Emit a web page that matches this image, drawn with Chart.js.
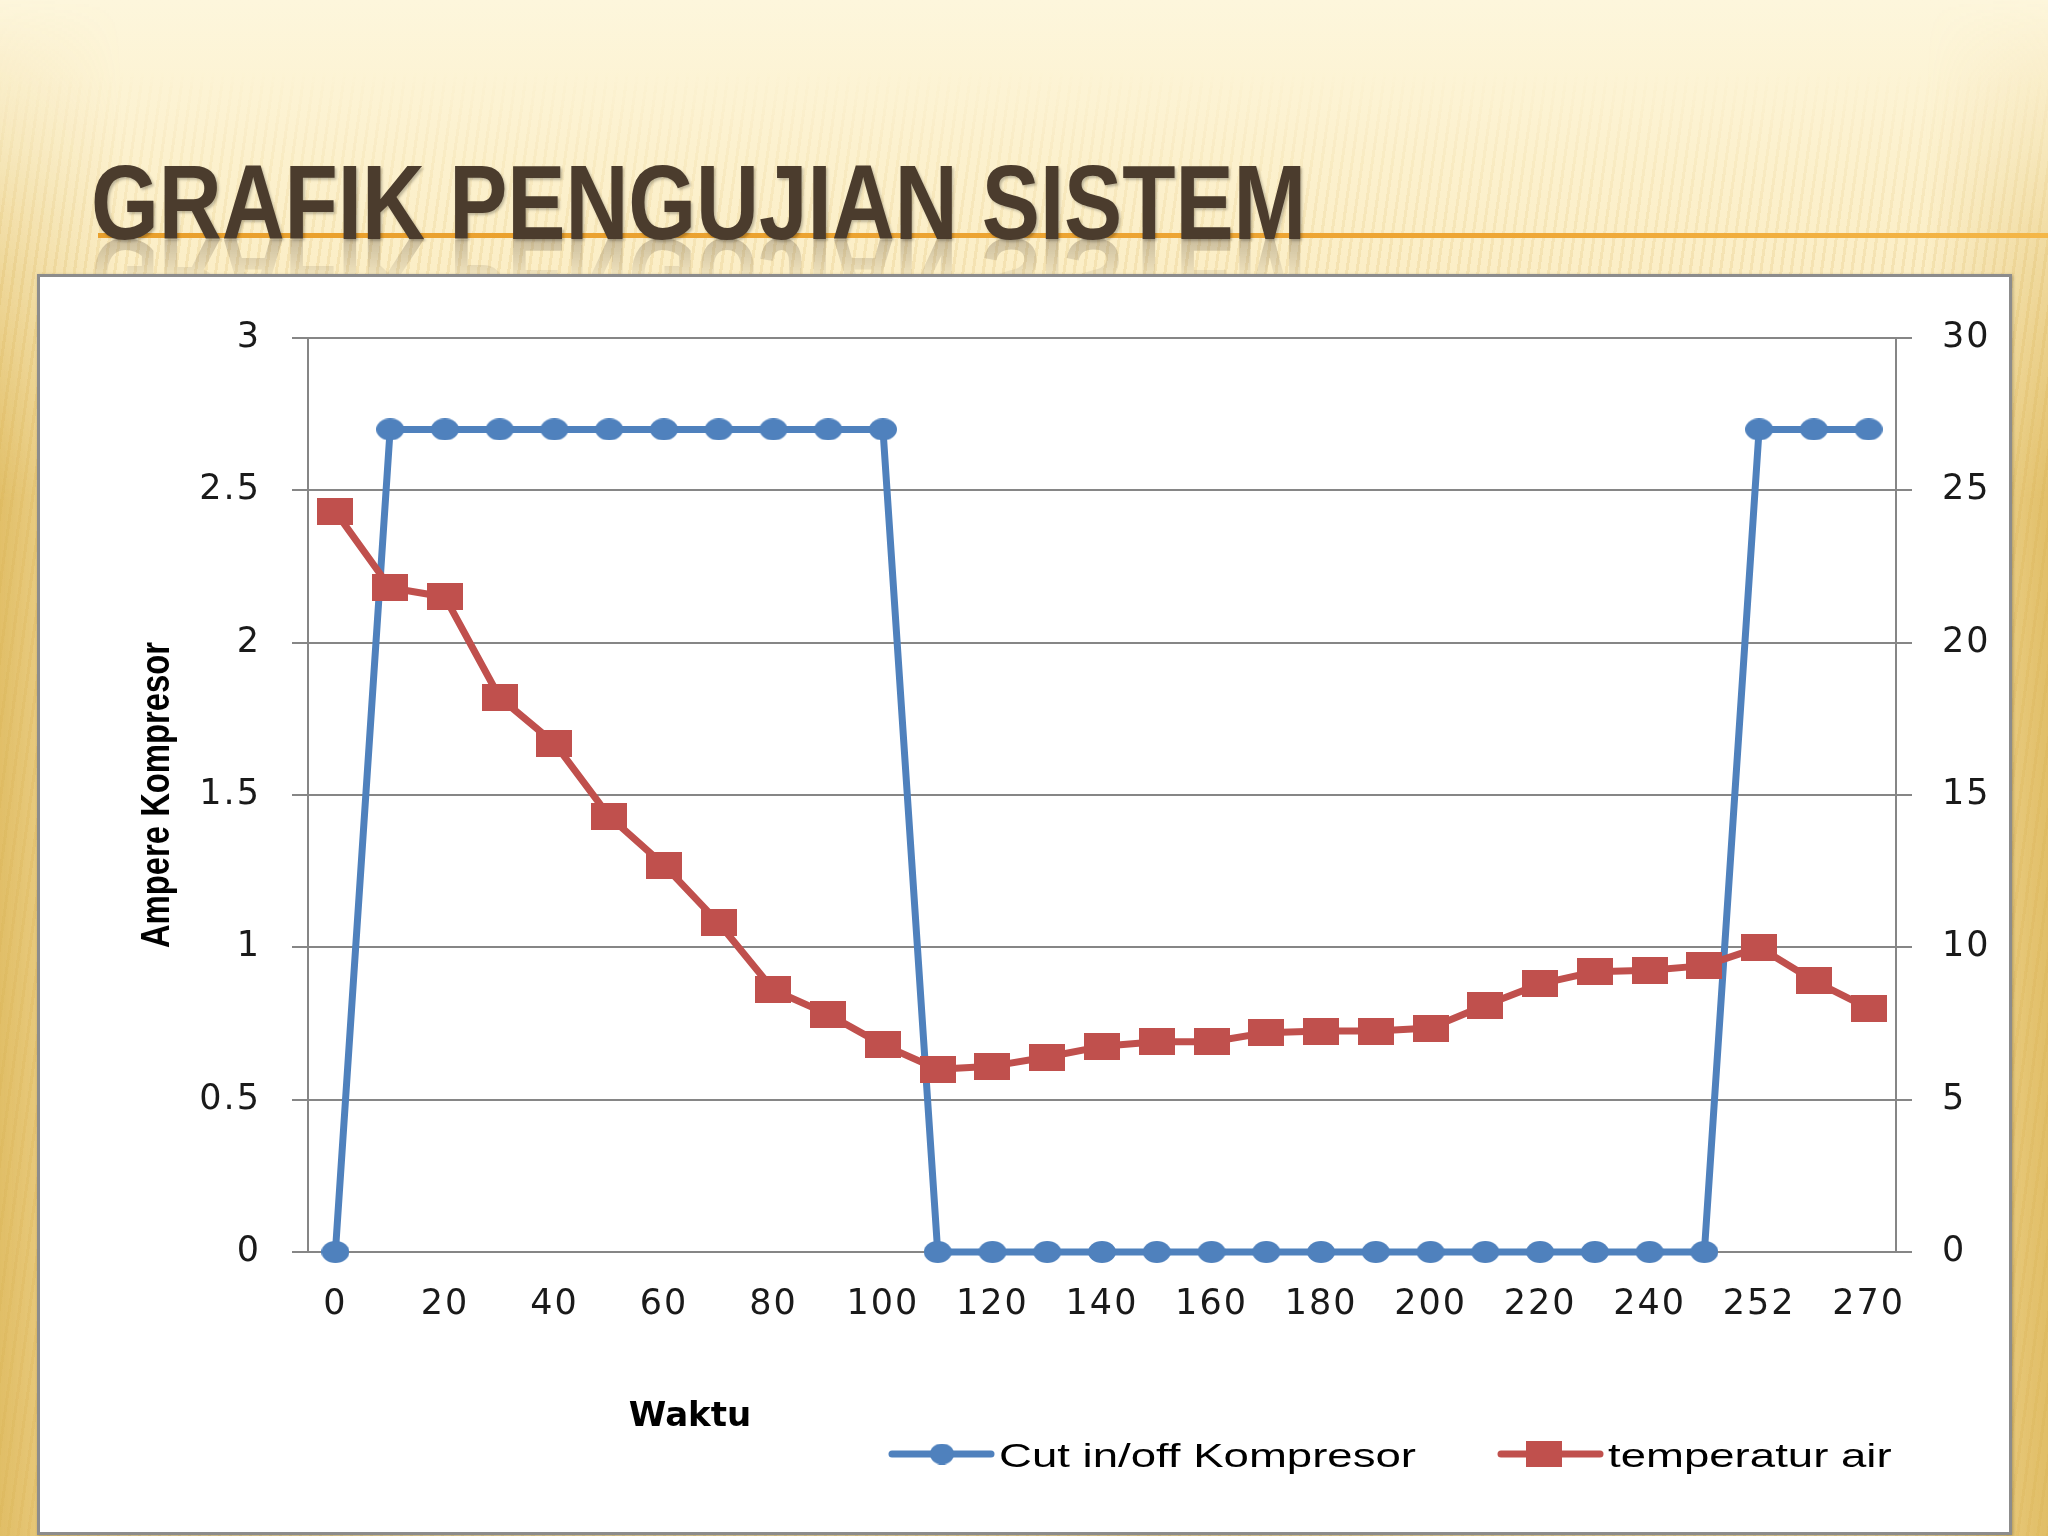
<!DOCTYPE html>
<html>
<head>
<meta charset="utf-8">
<script src="https://cdn.jsdelivr.net/npm/chart.js@4.4.1/dist/chart.umd.min.js"></script>
<style>
html,body{margin:0;padding:0;width:2048px;height:1536px;overflow:hidden;background:#fcefc8;}
#slide{position:absolute;left:0;top:0;width:2048px;height:1536px;overflow:hidden;
  background:linear-gradient(180deg, #fdf6dc 0%, #fcf1ce 10%, #f9e7b4 35%, #f4dc9e 100%);}
#sides{position:absolute;left:0;top:0;width:2048px;height:1536px;
  background:linear-gradient(90deg, rgba(222,186,96,0.9) 0%, rgba(236,210,140,0.0) 6%, rgba(236,210,140,0.0) 94%, rgba(222,186,96,0.9) 100%);
  -webkit-mask-image:linear-gradient(180deg, rgba(0,0,0,0) 0px, rgba(0,0,0,0.2) 150px, rgba(0,0,0,1) 500px);
  mask-image:linear-gradient(180deg, rgba(0,0,0,0) 0px, rgba(0,0,0,0.2) 150px, rgba(0,0,0,1) 500px);}
#stripes{position:absolute;left:0;top:0;width:2048px;height:1536px;
  background:repeating-linear-gradient(98deg, rgba(214,170,70,0.16) 0px, rgba(214,170,70,0.16) 3px, rgba(255,255,255,0) 3px, rgba(255,255,255,0) 10px);
  -webkit-mask-image:linear-gradient(180deg, rgba(0,0,0,0) 0px, rgba(0,0,0,0) 70px, rgba(0,0,0,1) 260px);
  mask-image:linear-gradient(180deg, rgba(0,0,0,0) 0px, rgba(0,0,0,0) 70px, rgba(0,0,0,1) 260px);}
#rule{position:absolute;left:98px;top:233px;width:1950px;height:5px;
  background:linear-gradient(90deg,#e9a02c 0%,#eea634 70%,#f4b748 100%);}
.ttl{position:absolute;left:91px;top:149px;margin:0;white-space:nowrap;
  font-family:"Liberation Sans",Arial,sans-serif;font-weight:bold;font-size:106px;line-height:106px;
  color:#4b3c2d;transform-origin:0 0;transform:scaleX(0.822);}
#title{text-shadow:2px 2px 3px rgba(0,0,0,0.25);}
#refl{transform-origin:0 90px;transform:scaleX(0.822) scaleY(-1);opacity:0.45;
  -webkit-mask-image:linear-gradient(180deg, rgba(0,0,0,0) 40%, rgba(0,0,0,0.8) 100%);
  mask-image:linear-gradient(180deg, rgba(0,0,0,0) 40%, rgba(0,0,0,0.8) 100%);}
#box{position:absolute;left:37px;top:274px;width:1975px;height:1261px;box-sizing:border-box;
  border:3px solid #8c8c8c;background:#ffffff;box-shadow:1px 1px 3px rgba(0,0,0,0.25);}
#wrap{position:absolute;left:0;top:0;width:1969px;height:1255px;}
</style>
</head>
<body>
<div id="slide">
  <div id="sides"></div>
  <div id="stripes"></div>
  <div id="rule"></div>
  <div class="ttl" id="refl">GRAFIK PENGUJIAN SISTEM</div>
  <div class="ttl" id="title">GRAFIK PENGUJIAN SISTEM</div>
  <div id="box"><div id="wrap"><canvas id="c"></canvas></div></div>
</div>
<script>
// ---- data ----
const waktu = ['0','10','20','30','40','50','60','70','80','90','100','110','120','130','140','150','160','170','180','190','200','210','220','230','240','250','252','260','270'];
const cutInOff = [0, 2.7,2.7,2.7,2.7,2.7,2.7,2.7,2.7,2.7,2.7, 0,0,0,0,0,0,0,0,0,0,0,0,0,0,0, 2.7,2.7,2.7];
const temperaturAir = [24.3,21.8,21.5,18.2,16.7,14.3,12.7,10.8,8.6,7.8,6.8,6.0,6.1,6.4,6.75,6.9,6.9,7.2,7.25,7.25,7.35,8.1,8.8,9.2,9.25,9.4,10.0,8.9,8.0];
const seriesNames = ['Cut in/off Kompresor','temperatur air'];
const xTitle = 'Waktu';
const yTitle = 'Ampere Kompresor';

const BLUE = '#4f81bd', RED = '#c0504d', GRID = '#868686', TXT = '#1a1a1a';

function ellipseImg(w,h,color){
  const c=document.createElement('canvas'); c.width=w; c.height=h;
  const g=c.getContext('2d'); g.fillStyle=color; g.beginPath();
  g.ellipse(w/2,h/2,w/2,h/2,0,0,Math.PI*2); g.fill(); return c;
}
function rectImg(w,h,color){
  const c=document.createElement('canvas'); c.width=w; c.height=h;
  const g=c.getContext('2d'); g.fillStyle=color; g.fillRect(0,0,w,h); return c;
}
const blueMark = ellipseImg(28,22,BLUE);
const redMark = rectImg(36,27,RED);

const extras = {
  id:'extras',
  beforeDraw(chart){
    if ('letterSpacing' in chart.ctx) chart.ctx.letterSpacing = '2px';
  },
  afterDraw(chart){
    const ctx = chart.ctx, a = chart.chartArea;
    if ('letterSpacing' in ctx) ctx.letterSpacing = '0px';
    ctx.save();
    // y-axis title
    ctx.save();
    ctx.translate(118, (a.top + a.bottom)/2);
    ctx.rotate(-Math.PI/2);
    ctx.scale(0.82,1);
    ctx.font = 'bold 40px "Liberation Sans", Arial, sans-serif';
    ctx.fillStyle = '#000';
    ctx.textAlign = 'center'; ctx.textBaseline = 'middle';
    ctx.fillText(yTitle, 0, 0);
    ctx.restore();
    // x-axis title
    ctx.font = 'bold 34px "DejaVu Sans", Verdana, sans-serif';
    ctx.fillStyle = '#000';
    ctx.textAlign = 'center'; ctx.textBaseline = 'middle';
    ctx.fillText(xTitle, a.left + 382, a.bottom + 165);
    // legend
    const ly = a.bottom + 202;
    const items = [
      {x0:852, x1:951, mx:902, tx:959, color:BLUE, mark:ellipseImg(24,21,BLUE), text:seriesNames[0]},
      {x0:1461, x1:1560, mx:1504, tx:1568, color:RED, mark:rectImg(36,26,RED), text:seriesNames[1]}
    ];
    items.forEach(it=>{
      ctx.strokeStyle = it.color; ctx.lineWidth = 7; ctx.lineCap = 'round';
      ctx.beginPath(); ctx.moveTo(it.x0, ly); ctx.lineTo(it.x1, ly); ctx.stroke();
      ctx.drawImage(it.mark, it.mx - it.mark.width/2, ly - it.mark.height/2);
      ctx.save();
      ctx.translate(it.tx, ly + 13);
      ctx.scale(1.34,1);
      ctx.font = '34px "Liberation Sans", Arial, sans-serif';
      ctx.fillStyle = '#000'; ctx.textAlign = 'left'; ctx.textBaseline = 'alphabetic';
      ctx.fillText(it.text, 0, 0);
      ctx.restore();
    });
    ctx.restore();
  }
};

const tickFont = {family:'"DejaVu Sans", Verdana, sans-serif', size:35};
const plainNum = function(v){ return String(Number(v)); };

new Chart(document.getElementById('c'), {
  type:'line',
  data:{
    labels: waktu,
    datasets:[
      {label:seriesNames[0], data:cutInOff, yAxisID:'y', borderColor:BLUE, backgroundColor:BLUE,
       borderWidth:7, pointStyle:blueMark, pointRadius:10, tension:0, clip:false, order:2,
       borderCapStyle:'round', borderJoinStyle:'round'},
      {label:seriesNames[1], data:temperaturAir, yAxisID:'y1', borderColor:RED, backgroundColor:RED,
       borderWidth:7, pointStyle:redMark, pointRadius:10, tension:0, clip:false, order:1,
       borderCapStyle:'round', borderJoinStyle:'round'}
    ]
  },
  options:{
    responsive:true, maintainAspectRatio:false, animation:false, events:[],
    devicePixelRatio:1,
    layout:{padding:{top:61,left:0,right:0,bottom:0}},
    plugins:{legend:{display:false}, tooltip:{enabled:false}, title:{display:false}},
    scales:{
      x:{
        type:'category', offset:true,
        grid:{display:false, drawTicks:false}, border:{display:false},
        ticks:{autoSkip:false, maxRotation:0, minRotation:0, padding:32, color:TXT, font:tickFont,
          callback:function(v,i){ return i%2===0 ? this.getLabelForValue(v) : ''; }},
        afterFit:function(s){ s.height = 280; }
      },
      y:{
        position:'left', min:0, max:3,
        ticks:{stepSize:0.5, padding:31, color:TXT, font:tickFont, callback:plainNum},
        grid:{color:GRID, lineWidth:2, tickLength:16, drawTicks:true},
        border:{display:true, color:GRID, width:2},
        afterFit:function(s){ s.width = 268; }
      },
      y1:{
        position:'right', min:0, max:30,
        ticks:{stepSize:5, padding:30, color:TXT, font:tickFont, callback:plainNum},
        grid:{drawOnChartArea:false, color:GRID, lineWidth:2, tickLength:16},
        border:{display:true, color:GRID, width:2},
        afterFit:function(s){ s.width = 113; }
      }
    }
  },
  plugins:[extras]
});
</script>
</body>
</html>
